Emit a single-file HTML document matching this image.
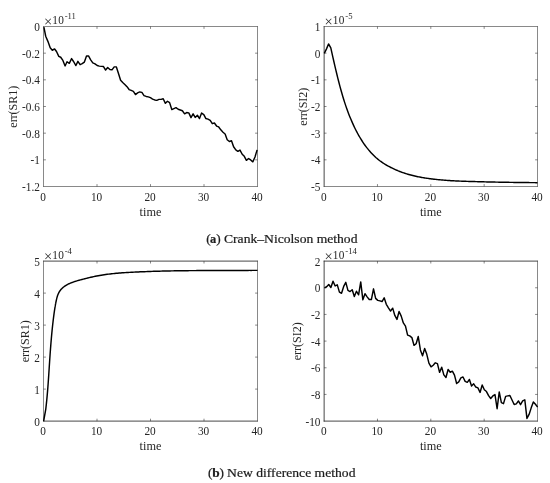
<!DOCTYPE html>
<html><head><meta charset="utf-8"><title>Figure</title>
<style>
html,body{margin:0;padding:0;background:#fff;}
svg{display:block}
text{font-family:"Liberation Serif",serif;fill:#262626}
.t{font-size:11.3px}
.x{font-size:14.5px}
.e{font-size:8.7px}
.l{font-size:12.3px}
.c{font-size:13.3px;fill:#1c1c1c;stroke:#1c1c1c;stroke-width:0.22px;font-family:"Liberation Serif","DejaVu Serif",serif}
.ax{stroke:#262626;stroke-width:0.55;fill:none}
.cv{stroke:#000;stroke-width:1.45;fill:none;stroke-linejoin:round;stroke-linecap:butt}
</style></head><body>
<svg width="550" height="483" viewBox="0 0 550 483">
<rect width="550" height="483" fill="#fff"/>
<g id="p1">
<path class="ax" style="stroke-width:0.55" d="M43.5 26.225V186.775"/>
<path class="ax" d="M257.5 26.225V186.775"/>
<path class="ax" style="stroke-width:0.55" d="M43.225 26.5H257.775M43.225 186.5H257.775"/>
<text class="t" transform="translate(43.10 200.8) scale(1 1.05)" text-anchor="middle">0</text>
<text class="t" transform="translate(96.60 200.8) scale(1 1.05)" text-anchor="middle">10</text>
<text class="t" transform="translate(150.10 200.8) scale(1 1.05)" text-anchor="middle">20</text>
<text class="t" transform="translate(203.60 200.8) scale(1 1.05)" text-anchor="middle">30</text>
<text class="t" transform="translate(257.10 200.8) scale(1 1.05)" text-anchor="middle">40</text>
<text class="t" transform="translate(39.9 30.9) scale(1 1.06)" text-anchor="end">0</text>
<text class="t" transform="translate(39.9 57.6) scale(1 1.06)" text-anchor="end">-0.2</text>
<text class="t" transform="translate(39.9 84.2) scale(1 1.06)" text-anchor="end">-0.4</text>
<text class="t" transform="translate(39.9 110.9) scale(1 1.06)" text-anchor="end">-0.6</text>
<text class="t" transform="translate(39.9 137.6) scale(1 1.06)" text-anchor="end">-0.8</text>
<text class="t" transform="translate(39.9 164.2) scale(1 1.06)" text-anchor="end">-1</text>
<text class="t" transform="translate(39.9 190.9) scale(1 1.06)" text-anchor="end">-1.2</text>
<path class="ax" d="M97.00 186.5v-2.4M97.00 26.5v2.4M150.50 186.5v-2.4M150.50 26.5v2.4M204.00 186.5v-2.4M204.00 26.5v2.4M43.5 53.17h2.4M257.5 53.17h-2.4M43.5 79.83h2.4M257.5 79.83h-2.4M43.5 106.50h2.4M257.5 106.50h-2.4M43.5 133.17h2.4M257.5 133.17h-2.4M43.5 159.83h2.4M257.5 159.83h-2.4"/>
<text class="x" transform="translate(44.0 26.30) rotate(0.03)">×</text>
<text class="t" transform="translate(52.2 23.9) scale(1 1.06)" letter-spacing="0.35">10<tspan class="e" dy="-4.4" dx="0.5" letter-spacing="0">-11</tspan></text>
<text class="l" transform="translate(150.5 215.5) scale(1 1.04)" text-anchor="middle">time</text>
<text class="l" style="font-size:12px" transform="translate(16.8 106.7) rotate(-90)" text-anchor="middle">err(SR1)</text>
<path class="cv" d="M43.90 27.15 L45.70 36.25 L47.90 41.35 L50.20 47.75 L52.30 50.25 L54.60 48.95 L56.50 51.55 L58.80 56.35 L60.70 57.25 L62.90 60.45 L65.10 65.95 L67.00 61.75 L69.30 63.35 L71.60 58.55 L73.70 61.75 L75.90 65.55 L77.90 61.35 L80.10 64.65 L82.20 63.65 L84.30 62.15 L86.50 55.95 L88.50 55.95 L90.70 59.85 L92.80 62.95 L95.00 63.85 L97.20 65.55 L99.30 66.15 L101.40 66.35 L103.50 66.55 L105.60 70.05 L107.70 67.55 L109.90 69.45 L112.00 69.85 L114.20 66.85 L116.30 66.85 L118.40 73.25 L120.60 80.25 L122.70 82.45 L124.80 84.45 L127.00 86.65 L129.10 89.55 L131.20 90.45 L133.40 91.35 L135.50 94.55 L137.60 92.95 L139.80 91.95 L141.90 92.35 L144.00 95.55 L146.20 96.45 L148.30 96.85 L150.40 97.65 L152.60 99.05 L154.70 99.95 L156.80 100.35 L159.00 99.35 L161.10 99.35 L163.20 98.75 L165.40 103.35 L167.50 101.25 L169.60 102.65 L171.80 109.55 L173.90 108.55 L176.00 107.65 L178.20 109.25 L180.30 109.95 L182.40 110.75 L184.60 113.85 L186.70 112.55 L188.80 112.85 L191.00 117.65 L193.10 113.85 L195.20 117.45 L197.40 115.25 L199.50 118.55 L201.60 113.05 L203.80 114.55 L205.90 118.55 L208.00 119.15 L210.20 120.35 L212.30 123.65 L214.40 123.05 L216.60 126.05 L218.70 126.95 L220.80 129.85 L223.00 132.25 L225.10 133.95 L227.20 139.75 L229.40 141.55 L231.50 140.75 L233.60 146.75 L235.80 149.85 L237.90 151.35 L240.00 150.05 L242.20 154.25 L244.30 156.35 L246.40 160.35 L248.60 158.55 L250.70 159.95 L252.80 161.85 L255.00 157.05 L257.10 149.85"/>
</g>
<g id="p2">
<path class="ax" style="stroke-width:0.85" d="M324.125 26.225V186.775"/>
<path class="ax" d="M537.5 26.225V186.775"/>
<path class="ax" style="stroke-width:0.55" d="M323.700 26.5H537.775M323.700 186.5H537.775"/>
<text class="t" transform="translate(323.73 200.8) scale(1 1.05)" text-anchor="middle">0</text>
<text class="t" transform="translate(377.07 200.8) scale(1 1.05)" text-anchor="middle">10</text>
<text class="t" transform="translate(430.41 200.8) scale(1 1.05)" text-anchor="middle">20</text>
<text class="t" transform="translate(483.76 200.8) scale(1 1.05)" text-anchor="middle">30</text>
<text class="t" transform="translate(537.10 200.8) scale(1 1.05)" text-anchor="middle">40</text>
<text class="t" transform="translate(320.5 30.9) scale(1 1.06)" text-anchor="end">1</text>
<text class="t" transform="translate(320.5 57.6) scale(1 1.06)" text-anchor="end">0</text>
<text class="t" transform="translate(320.5 84.2) scale(1 1.06)" text-anchor="end">-1</text>
<text class="t" transform="translate(320.5 110.9) scale(1 1.06)" text-anchor="end">-2</text>
<text class="t" transform="translate(320.5 137.6) scale(1 1.06)" text-anchor="end">-3</text>
<text class="t" transform="translate(320.5 164.2) scale(1 1.06)" text-anchor="end">-4</text>
<text class="t" transform="translate(320.5 190.9) scale(1 1.06)" text-anchor="end">-5</text>
<path class="ax" d="M377.47 186.5v-2.4M377.47 26.5v2.4M430.81 186.5v-2.4M430.81 26.5v2.4M484.16 186.5v-2.4M484.16 26.5v2.4M324.125 53.17h2.4M537.5 53.17h-2.4M324.125 79.83h2.4M537.5 79.83h-2.4M324.125 106.50h2.4M537.5 106.50h-2.4M324.125 133.17h2.4M537.5 133.17h-2.4M324.125 159.83h2.4M537.5 159.83h-2.4"/>
<text class="x" transform="translate(324.6 26.30) rotate(0.03)">×</text>
<text class="t" transform="translate(332.8 23.9) scale(1 1.06)" letter-spacing="0.35">10<tspan class="e" dy="-4.4" dx="0.5" letter-spacing="0">-5</tspan></text>
<text class="l" transform="translate(430.8 215.5) scale(1 1.04)" text-anchor="middle">time</text>
<text class="l" style="font-size:12px" transform="translate(306.5 106.7) rotate(-90)" text-anchor="middle">err(SI2)</text>
<path class="cv" d="M324.30 53.35 L326.50 48.85 L328.55 43.95 L330.80 47.91 L331.80 52.38 L332.80 56.84 L333.80 61.24 L334.80 65.58 L335.80 69.84 L336.80 74.00 L337.80 78.05 L338.80 81.99 L339.80 85.82 L340.80 89.51 L341.80 93.05 L342.80 96.45 L343.80 99.72 L344.80 102.85 L345.80 105.87 L346.80 108.76 L347.80 111.51 L348.80 114.14 L349.80 116.65 L350.80 119.07 L351.80 121.40 L352.80 123.66 L353.80 125.85 L354.80 127.95 L355.80 129.97 L356.80 131.90 L357.80 133.76 L358.80 135.54 L359.80 137.26 L360.80 138.91 L361.80 140.50 L362.80 142.04 L363.80 143.53 L364.80 144.96 L365.80 146.33 L366.80 147.65 L367.80 148.91 L368.80 150.12 L369.80 151.29 L370.80 152.41 L371.80 153.49 L372.80 154.53 L373.80 155.53 L374.80 156.49 L375.80 157.42 L376.80 158.30 L377.80 159.15 L378.80 159.95 L379.80 160.73 L380.80 161.46 L381.80 162.17 L382.80 162.85 L383.80 163.51 L384.80 164.14 L385.80 164.75 L386.80 165.33 L387.80 165.90 L388.80 166.44 L389.80 166.97 L390.80 167.48 L391.80 167.97 L392.80 168.45 L393.80 168.92 L394.80 169.38 L395.80 169.82 L396.80 170.25 L397.80 170.68 L398.80 171.08 L399.80 171.48 L400.80 171.86 L401.80 172.24 L402.80 172.59 L403.80 172.94 L404.80 173.27 L405.80 173.58 L406.80 173.89 L407.80 174.19 L408.80 174.47 L409.80 174.75 L410.80 175.02 L411.80 175.28 L412.80 175.53 L413.80 175.78 L414.80 176.01 L415.80 176.24 L416.80 176.46 L417.80 176.67 L418.80 176.87 L419.80 177.07 L420.80 177.26 L421.80 177.44 L422.80 177.61 L423.80 177.78 L424.80 177.95 L425.80 178.10 L426.80 178.26 L427.80 178.40 L428.80 178.54 L429.80 178.68 L430.80 178.81 L431.80 178.94 L432.80 179.06 L433.80 179.18 L434.80 179.29 L435.80 179.40 L436.80 179.51 L437.80 179.61 L438.80 179.71 L439.80 179.80 L440.80 179.90 L441.80 179.98 L442.80 180.07 L443.80 180.15 L444.80 180.23 L445.80 180.31 L446.80 180.38 L447.80 180.46 L448.80 180.53 L449.80 180.59 L450.80 180.66 L451.80 180.72 L452.80 180.78 L453.80 180.83 L454.80 180.89 L455.80 180.94 L456.80 180.98 L457.80 181.03 L458.80 181.07 L459.80 181.11 L460.80 181.15 L461.80 181.19 L462.80 181.22 L463.80 181.26 L464.80 181.29 L465.80 181.32 L466.80 181.35 L467.80 181.38 L468.80 181.41 L469.80 181.44 L470.80 181.47 L471.80 181.49 L472.80 181.52 L473.80 181.55 L474.80 181.58 L475.80 181.60 L476.80 181.63 L477.80 181.66 L478.80 181.69 L479.80 181.72 L480.80 181.75 L481.80 181.77 L482.80 181.80 L483.80 181.83 L484.80 181.86 L485.80 181.88 L486.80 181.91 L487.80 181.93 L488.80 181.96 L489.80 181.98 L490.80 182.00 L491.80 182.03 L492.80 182.05 L493.80 182.07 L494.80 182.09 L495.80 182.11 L496.80 182.13 L497.80 182.15 L498.80 182.17 L499.80 182.19 L500.80 182.21 L501.80 182.23 L502.80 182.24 L503.80 182.26 L504.80 182.28 L505.80 182.29 L506.80 182.31 L507.80 182.33 L508.80 182.34 L509.80 182.35 L510.80 182.37 L511.80 182.38 L512.80 182.40 L513.80 182.41 L514.80 182.42 L515.80 182.44 L516.80 182.45 L517.80 182.46 L518.80 182.47 L519.80 182.49 L520.80 182.50 L521.80 182.51 L522.80 182.52 L523.80 182.53 L524.80 182.54 L525.80 182.55 L526.80 182.56 L527.80 182.57 L528.80 182.59 L529.80 182.60 L530.80 182.61 L531.80 182.62 L532.80 182.63 L533.80 182.64 L534.80 182.65 L535.80 182.65 L536.80 182.66 L537.50 182.67"/>
</g>
<g id="p3">
<path class="ax" style="stroke-width:0.55" d="M43.5 260.675V421.525"/>
<path class="ax" d="M257.5 260.675V421.525"/>
<path class="ax" style="stroke-width:0.85" d="M43.225 261.1H257.775M43.225 421.1H257.775"/>
<text class="t" transform="translate(43.10 435.4) scale(1 1.05)" text-anchor="middle">0</text>
<text class="t" transform="translate(96.60 435.4) scale(1 1.05)" text-anchor="middle">10</text>
<text class="t" transform="translate(150.10 435.4) scale(1 1.05)" text-anchor="middle">20</text>
<text class="t" transform="translate(203.60 435.4) scale(1 1.05)" text-anchor="middle">30</text>
<text class="t" transform="translate(257.10 435.4) scale(1 1.05)" text-anchor="middle">40</text>
<text class="t" transform="translate(39.9 265.5) scale(1 1.06)" text-anchor="end">5</text>
<text class="t" transform="translate(39.9 297.5) scale(1 1.06)" text-anchor="end">4</text>
<text class="t" transform="translate(39.9 329.5) scale(1 1.06)" text-anchor="end">3</text>
<text class="t" transform="translate(39.9 361.5) scale(1 1.06)" text-anchor="end">2</text>
<text class="t" transform="translate(39.9 393.5) scale(1 1.06)" text-anchor="end">1</text>
<text class="t" transform="translate(39.9 425.5) scale(1 1.06)" text-anchor="end">0</text>
<path class="ax" d="M97.00 421.1v-2.4M97.00 261.1v2.4M150.50 421.1v-2.4M150.50 261.1v2.4M204.00 421.1v-2.4M204.00 261.1v2.4M43.5 293.10h2.4M257.5 293.10h-2.4M43.5 325.10h2.4M257.5 325.10h-2.4M43.5 357.10h2.4M257.5 357.10h-2.4M43.5 389.10h2.4M257.5 389.10h-2.4"/>
<text class="x" transform="translate(44.0 260.90) rotate(0.03)">×</text>
<text class="t" transform="translate(52.2 258.5) scale(1 1.06)" letter-spacing="0.35">10<tspan class="e" dy="-4.4" dx="0.5" letter-spacing="0">-4</tspan></text>
<text class="l" transform="translate(150.5 450.1) scale(1 1.04)" text-anchor="middle">time</text>
<text class="l" style="font-size:12px" transform="translate(28.9 341.3) rotate(-90)" text-anchor="middle">err(SR1)</text>
<path class="cv" d="M43.60 421.25 L45.74 409.36 L45.80 408.86 L45.86 408.36 L45.92 407.86 L45.98 407.36 L46.03 406.86 L46.09 406.36 L46.15 405.87 L46.20 405.37 L46.26 404.87 L46.31 404.37 L46.37 403.87 L46.42 403.37 L46.47 402.87 L46.52 402.38 L46.58 401.88 L46.63 401.38 L46.68 400.88 L46.73 400.38 L46.78 399.88 L46.82 399.39 L46.87 398.89 L46.92 398.39 L46.97 397.89 L47.01 397.39 L47.06 396.89 L47.11 396.40 L47.15 395.90 L47.20 395.40 L47.24 394.90 L47.28 394.40 L47.33 393.90 L47.37 393.41 L47.41 392.91 L47.46 392.41 L47.50 391.91 L47.54 391.41 L47.58 390.91 L47.62 390.42 L47.66 389.92 L47.70 389.42 L47.74 388.92 L47.78 388.42 L47.82 387.93 L47.86 387.43 L47.89 386.93 L47.93 386.43 L47.97 385.93 L48.01 385.43 L48.04 384.94 L48.08 384.44 L48.12 383.94 L48.15 383.44 L48.19 382.94 L48.22 382.45 L48.26 381.95 L48.29 381.45 L48.33 380.95 L48.36 380.45 L48.40 379.96 L48.43 379.46 L48.47 378.96 L48.50 378.46 L48.54 377.96 L48.57 377.47 L48.60 376.97 L48.64 376.47 L48.67 375.97 L48.70 375.47 L48.74 374.98 L48.77 374.48 L48.80 373.98 L48.83 373.48 L48.87 372.98 L48.90 372.48 L48.93 371.99 L48.96 371.49 L49.00 370.99 L49.03 370.49 L49.06 369.99 L49.09 369.50 L49.13 369.00 L49.16 368.50 L49.19 368.00 L49.22 367.50 L49.25 367.01 L49.29 366.51 L49.32 366.01 L49.35 365.51 L49.38 365.01 L49.42 364.52 L49.45 364.02 L49.48 363.52 L49.52 363.02 L49.55 362.52 L49.58 362.03 L49.61 361.53 L49.65 361.03 L49.68 360.53 L49.71 360.03 L49.75 359.54 L49.78 359.04 L49.81 358.54 L49.85 358.04 L49.88 357.54 L49.92 357.04 L49.95 356.55 L49.99 356.05 L50.02 355.55 L50.05 355.05 L50.09 354.55 L50.12 354.06 L50.16 353.56 L50.20 353.06 L50.23 352.56 L50.27 352.06 L50.30 351.57 L50.34 351.07 L50.38 350.57 L50.41 350.07 L50.45 349.57 L50.49 349.07 L50.52 348.58 L50.56 348.08 L50.60 347.58 L50.64 347.08 L50.68 346.58 L50.72 346.08 L50.75 345.59 L50.79 345.09 L50.83 344.59 L50.87 344.09 L50.91 343.59 L50.95 343.09 L50.99 342.60 L51.03 342.10 L51.08 341.60 L51.12 341.10 L51.16 340.60 L51.20 340.10 L51.24 339.61 L51.29 339.11 L51.33 338.61 L51.37 338.11 L51.42 337.61 L51.46 337.11 L51.51 336.61 L51.55 336.12 L51.60 335.62 L51.64 335.12 L51.69 334.62 L51.74 334.12 L51.78 333.62 L51.83 333.12 L51.88 332.63 L51.93 332.13 L51.98 331.63 L52.02 331.13 L52.07 330.63 L52.12 330.13 L52.17 329.63 L52.22 329.14 L52.28 328.64 L52.33 328.14 L52.38 327.64 L52.43 327.14 L52.49 326.64 L52.54 326.14 L52.59 325.64 L52.65 325.14 L52.70 324.65 L52.76 324.15 L52.81 323.65 L52.87 323.15 L52.93 322.65 L52.99 322.15 L53.04 321.65 L53.10 321.15 L53.16 320.65 L53.22 320.15 L53.28 319.66 L53.34 319.16 L53.40 318.66 L53.47 318.16 L53.53 317.66 L53.59 317.16 L53.66 316.66 L53.72 316.16 L53.79 315.66 L53.85 315.16 L53.92 314.66 L53.99 314.17 L54.05 313.67 L54.12 313.17 L54.19 312.67 L54.26 312.17 L54.34 311.67 L54.41 311.17 L54.48 310.68 L54.56 310.18 L54.64 309.68 L54.71 309.18 L54.79 308.69 L54.87 308.19 L54.95 307.69 L55.03 307.19 L55.12 306.70 L55.20 306.20 L55.29 305.71 L55.37 305.21 L55.46 304.71 L55.55 304.22 L55.64 303.72 L55.74 303.23 L55.83 302.73 L55.92 302.24 L56.02 301.75 L56.12 301.25 L56.22 300.76 L56.32 300.27 L56.43 299.79 L56.54 299.30 L56.65 298.82 L56.77 298.34 L56.89 297.86 L57.02 297.39 L57.16 296.92 L57.30 296.46 L57.44 296.00 L57.60 295.54 L57.76 295.08 L57.93 294.64 L58.11 294.19 L58.30 293.75 L58.50 293.32 L58.71 292.89 L58.93 292.46 L59.16 292.05 L59.40 291.64 L59.66 291.24 L59.93 290.84 L60.21 290.46 L60.50 290.08 L60.81 289.71 L61.12 289.34 L61.45 288.98 L61.79 288.64 L62.14 288.29 L62.50 287.96 L62.87 287.64 L63.25 287.32 L63.63 287.01 L64.02 286.71 L64.41 286.42 L64.82 286.13 L65.22 285.85 L65.63 285.59 L66.04 285.33 L66.46 285.07 L66.88 284.83 L67.30 284.59 L67.73 284.37 L68.15 284.15 L68.58 283.94 L69.01 283.74 L69.45 283.54 L69.88 283.35 L70.32 283.17 L70.76 282.99 L71.21 282.82 L71.65 282.65 L72.10 282.48 L72.55 282.32 L73.00 282.16 L73.45 282.00 L73.91 281.84 L74.37 281.68 L74.83 281.53 L75.29 281.38 L75.75 281.23 L76.21 281.08 L77.62 280.66 L79.04 280.26 L80.47 279.86 L81.91 279.48 L83.36 279.09 L84.83 278.71 L86.30 278.33 L87.78 277.97 L89.26 277.61 L90.75 277.27 L92.24 276.94 L93.73 276.61 L95.23 276.31 L96.72 276.01 L98.22 275.73 L99.71 275.47 L101.21 275.22 L102.70 274.98 L104.19 274.75 L105.69 274.53 L107.18 274.33 L108.68 274.14 L110.17 273.95 L111.67 273.78 L113.16 273.62 L114.66 273.46 L116.15 273.32 L117.65 273.18 L119.15 273.05 L120.64 272.93 L122.14 272.82 L123.63 272.71 L125.13 272.61 L126.62 272.52 L128.12 272.43 L129.61 272.35 L131.11 272.27 L132.60 272.19 L134.10 272.11 L135.60 272.04 L137.09 271.97 L138.59 271.91 L140.08 271.84 L141.58 271.78 L143.07 271.72 L144.57 271.66 L146.07 271.60 L147.56 271.54 L149.06 271.49 L150.56 271.44 L152.05 271.39 L153.55 271.34 L155.05 271.29 L156.54 271.25 L158.04 271.21 L159.54 271.17 L161.03 271.13 L162.53 271.09 L164.03 271.05 L165.52 271.02 L167.02 270.99 L168.52 270.95 L170.01 270.92 L171.51 270.90 L173.01 270.87 L174.51 270.84 L176.00 270.82 L177.50 270.79 L179.00 270.77 L180.50 270.75 L182.00 270.73 L183.49 270.71 L184.99 270.69 L186.49 270.68 L187.99 270.66 L189.49 270.65 L190.99 270.63 L192.48 270.62 L193.98 270.61 L195.48 270.60 L196.98 270.59 L198.48 270.58 L199.98 270.57 L201.48 270.56 L202.98 270.56 L204.48 270.55 L205.98 270.54 L207.48 270.54 L208.98 270.53 L210.48 270.53 L211.98 270.52 L213.48 270.52 L214.98 270.51 L216.48 270.51 L217.98 270.51 L219.48 270.50 L220.98 270.50 L222.48 270.50 L223.98 270.49 L225.48 270.49 L226.98 270.49 L228.48 270.48 L229.98 270.48 L231.48 270.47 L232.99 270.47 L234.49 270.47 L235.99 270.46 L237.49 270.46 L238.99 270.45 L240.50 270.45 L242.00 270.44 L243.50 270.43 L245.00 270.43 L246.51 270.42 L248.01 270.41 L249.51 270.40 L251.02 270.40 L252.52 270.39 L254.02 270.38 L255.53 270.36 L257.03 270.35 L257.50 270.35"/>
</g>
<g id="p4">
<path class="ax" style="stroke-width:0.85" d="M324.125 260.675V421.525"/>
<path class="ax" d="M537.5 260.675V421.525"/>
<path class="ax" style="stroke-width:0.85" d="M323.700 261.1H537.775M323.700 421.1H537.775"/>
<text class="t" transform="translate(323.73 435.4) scale(1 1.05)" text-anchor="middle">0</text>
<text class="t" transform="translate(377.07 435.4) scale(1 1.05)" text-anchor="middle">10</text>
<text class="t" transform="translate(430.41 435.4) scale(1 1.05)" text-anchor="middle">20</text>
<text class="t" transform="translate(483.76 435.4) scale(1 1.05)" text-anchor="middle">30</text>
<text class="t" transform="translate(537.10 435.4) scale(1 1.05)" text-anchor="middle">40</text>
<text class="t" transform="translate(320.5 265.5) scale(1 1.06)" text-anchor="end">2</text>
<text class="t" transform="translate(320.5 292.2) scale(1 1.06)" text-anchor="end">0</text>
<text class="t" transform="translate(320.5 318.8) scale(1 1.06)" text-anchor="end">-2</text>
<text class="t" transform="translate(320.5 345.5) scale(1 1.06)" text-anchor="end">-4</text>
<text class="t" transform="translate(320.5 372.2) scale(1 1.06)" text-anchor="end">-6</text>
<text class="t" transform="translate(320.5 398.8) scale(1 1.06)" text-anchor="end">-8</text>
<text class="t" transform="translate(320.5 425.5) scale(1 1.06)" text-anchor="end">-10</text>
<path class="ax" d="M377.47 421.1v-2.4M377.47 261.1v2.4M430.81 421.1v-2.4M430.81 261.1v2.4M484.16 421.1v-2.4M484.16 261.1v2.4M324.125 287.77h2.4M537.5 287.77h-2.4M324.125 314.43h2.4M537.5 314.43h-2.4M324.125 341.10h2.4M537.5 341.10h-2.4M324.125 367.77h2.4M537.5 367.77h-2.4M324.125 394.43h2.4M537.5 394.43h-2.4"/>
<text class="x" transform="translate(324.6 260.90) rotate(0.03)">×</text>
<text class="t" transform="translate(332.8 258.5) scale(1 1.06)" letter-spacing="0.35">10<tspan class="e" dy="-4.4" dx="0.5" letter-spacing="0">-14</tspan></text>
<text class="l" transform="translate(430.8 450.1) scale(1 1.04)" text-anchor="middle">time</text>
<text class="l" style="font-size:12px" transform="translate(300.7 341.3) rotate(-90)" text-anchor="middle">err(SI2)</text>
<path class="cv" d="M324.50 287.85 L326.63 286.75 L328.76 284.55 L330.89 287.45 L333.02 281.25 L335.15 285.95 L337.29 284.85 L339.42 292.15 L341.55 293.25 L343.68 286.45 L345.81 282.35 L347.94 290.35 L350.07 291.55 L352.20 289.75 L354.33 296.55 L356.46 291.25 L358.60 294.85 L360.73 281.95 L362.86 299.85 L364.99 293.65 L367.12 296.85 L369.25 299.55 L371.38 299.55 L373.51 288.85 L375.64 298.35 L377.77 300.35 L379.91 300.85 L382.04 301.55 L384.17 297.85 L386.30 304.35 L388.43 307.85 L390.56 311.05 L392.69 308.15 L394.82 315.45 L396.95 319.45 L399.08 311.45 L401.22 316.15 L403.35 322.95 L405.48 326.15 L407.61 335.05 L409.74 335.95 L411.87 337.55 L414.00 345.35 L416.13 343.75 L418.26 336.55 L420.39 349.95 L422.53 355.85 L424.66 348.55 L426.79 354.35 L428.92 363.15 L431.05 366.85 L433.18 365.25 L435.31 362.85 L437.44 363.65 L439.57 372.35 L441.70 367.25 L443.84 374.85 L445.97 377.45 L448.10 369.45 L450.23 372.25 L452.36 371.15 L454.49 375.15 L456.62 383.55 L458.75 381.85 L460.88 377.95 L463.01 376.95 L465.15 381.35 L467.28 382.35 L469.41 379.45 L471.54 385.95 L473.67 383.85 L475.80 387.05 L477.93 387.85 L480.06 392.45 L482.19 384.95 L484.32 389.75 L486.46 391.55 L488.59 395.65 L490.72 398.55 L492.85 395.95 L494.98 394.55 L497.11 408.75 L499.24 391.95 L501.37 402.55 L503.50 403.65 L505.63 396.35 L507.77 395.85 L509.90 395.55 L512.03 399.95 L514.16 404.55 L516.29 403.85 L518.42 400.95 L520.55 404.65 L522.68 400.95 L524.81 399.85 L526.94 418.45 L529.08 414.45 L531.21 407.85 L533.34 401.95 L535.47 404.25 L537.60 407.15"/>
</g>
<text class="c" x="206.3" y="242.5">(</text><text class="c" x="210.0" y="242.5" font-weight="bold" style="font-size:12.4px">a</text><text class="c" x="216.3" y="242.5">)</text>
<text class="c" x="224.0" y="242.5" textLength="133.5" lengthAdjust="spacingAndGlyphs">Crank–Nicolson method</text>
<text class="c" x="208.0" y="476.6">(</text><text class="c" x="212.3" y="476.6" font-weight="bold">b</text><text class="c" x="219.6" y="476.6">)</text>
<text class="c" x="227.1" y="476.6" textLength="128.4" lengthAdjust="spacingAndGlyphs">New difference method</text>
</svg></body></html>
